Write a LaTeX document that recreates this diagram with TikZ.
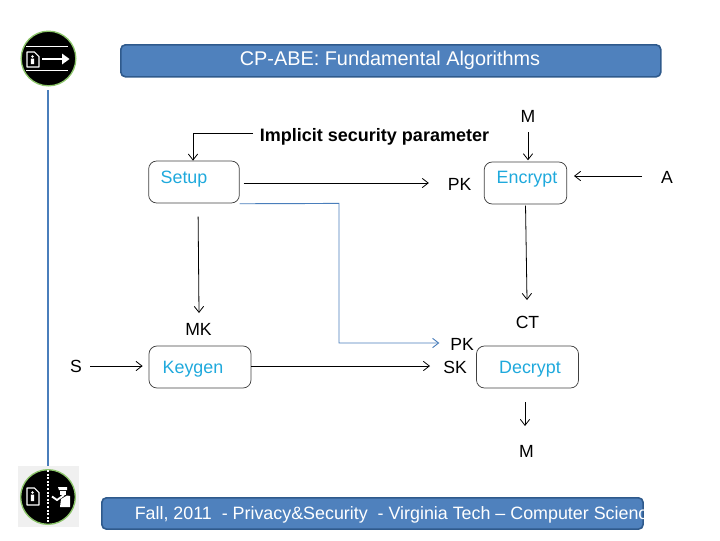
\documentclass[tikz,border=0pt]{standalone}
\usepackage{fontspec}
\setmainfont{Liberation Sans}
\usetikzlibrary{arrows.meta}
\definecolor{bannerfill}{HTML}{4F81BD}
\definecolor{bannerline}{HTML}{2F5A8C}
\definecolor{cyantext}{HTML}{1FA9DC}
\definecolor{bluearrow}{HTML}{4A7EBB}
\definecolor{ringgreen}{HTML}{8CC56A}
\tikzset{
  px/.style={x=0.75pt,y=-0.75pt},
  banner/.style={draw=bannerline,fill=bannerfill,line width=1.2pt,rounded corners=3.5pt},
  titlefont/.style={text=white,font=\fontsize{14.9pt}{17pt}\selectfont,inner sep=0pt},
  footfont/.style={text=white,font=\fontsize{13.4pt}{16pt}\selectfont,inner sep=0pt},
  algbox/.style={draw=black!75,line width=0.55pt,rounded corners=6pt,inner sep=0pt},
  algtext/.style={text=cyantext,font=\fontsize{13.4pt}{15pt}\selectfont,inner sep=0pt},
  lbl/.style={text=black,font=\fontsize{13.2pt}{15pt}\selectfont,inner sep=1pt},
  arr/.style={-{Straight Barb[length=4.5pt,width=7pt]},line width=0.6pt,black},
  bluearr/.style={-{Straight Barb[length=4.5pt,width=7pt]},line width=0.7pt,bluearrow},
  disc/.style={circle,fill=black,draw=ringgreen,line width=1pt,minimum size=41pt,inner sep=0pt},
  iconline/.style={white,line width=0.7pt},
}
\begin{document}
\begin{tikzpicture}[px]
\useasboundingbox (0,0) rectangle (720,540);
% timeline
\draw[bluearrow,line width=1.4pt] (48,90) -- (48,468);
% top icon
\node[disc] (topdisc) at (48.5,58.5) {};
\draw[iconline] (26,46) -- (68,46) (26,70) -- (68,70);
\draw[white,line width=0.8pt,line join=round] (27,52) -- (34.5,52) -- (39,56.5) -- (39,67) -- (27,67) -- cycle;
\fill[white] (32.5,56.5) circle (1.4) (30.8,58.5) rectangle (34.2,64);
\draw[white,line width=2.2pt] (42,59) -- (63,59);
\fill[white] (62,53.5) -- (69.5,59) -- (62,64.5) -- cycle;
% bottom icon
\fill[black!6] (18,466) rectangle (79,527);
\node[disc] (botdisc) at (48,497) {};
\draw[white,line width=1pt,dash pattern=on 1.5pt off 1.2pt] (48,470) -- (48,524);
\draw[white,line width=0.8pt,line join=round] (27,488) -- (34.5,488) -- (39,492.5) -- (39,505) -- (27,505) -- cycle;
\fill[white] (32.5,492.5) circle (1.4) (30.8,494.5) rectangle (34.2,501);
\fill[white] (58,487) -- (67,487) -- (67,490) -- (59,490) -- cycle;
\fill[white] (60,491) rectangle (66,495);
\fill[white] (61,499) -- (67,495.5) -- (70,496) -- (70,507) -- (60,507) -- cycle;
\draw[white,line width=1.4pt] (52,496.5) -- (57,500) -- (64,495);
% banners
\node[banner,minimum width=405pt,minimum height=24pt,anchor=north west,inner sep=0pt] (title) at (120,44) {};
\node[titlefont] (titletext) at (390,60) {CP-ABE: Fundamental Algorithms};
\node[banner,minimum width=406pt,minimum height=23.5pt,anchor=north west,inner sep=0pt] (foot) at (101,497) {};
\begin{scope}
\clip (101,497) rectangle (645,528);
\node[footfont,anchor=west] (foottext) at (134.5,514.5) {Fall, 2011\ \ - Privacy\&Security\ \ - Virginia Tech – Computer Science};
\end{scope}
% algorithm boxes
\node[algbox,minimum width=68pt,minimum height=31.5pt] (setup) at (194,182) {};
\node[algtext] (setuptext) at (184,179) {Setup};
\node[algbox,minimum width=62pt,minimum height=31.5pt] (encrypt) at (525.5,183) {};
\node[algtext] (encrypttext) at (527,179) {Encrypt};
\node[algbox,minimum width=76.5pt,minimum height=31.5pt] (keygen) at (200,367) {};
\node[algtext] (keygentext) at (193,369.5) {Keygen};
\node[algbox,minimum width=76.5pt,minimum height=31.5pt] (decrypt) at (527.5,367) {};
\node[algtext] (decrypttext) at (530,369.5) {Decrypt};
% labels
\node[text=black,font=\bfseries\fontsize{13.5pt}{15pt}\selectfont,inner sep=0pt] (implicit) at (374.5,137) {Implicit security parameter};
\node[lbl] (m1) at (528,116.5) {M};
\node[lbl] (a) at (667,177.5) {A};
\node[lbl] (pk1) at (459.5,184.5) {PK};
\node[lbl] (ct) at (527.5,322.5) {CT};
\node[lbl] (mk) at (198.5,329.5) {MK};
\node[lbl] (pk2) at (462,344.5) {PK};
\node[lbl] (sk) at (455,367.5) {SK};
\node[lbl] (s) at (76,366.5) {S};
\node[lbl] (m2) at (526.5,451.5) {M};
% connectors
\coordinate (implicitend) at (253,133);
\coordinate (bend) at (193,133);
\coordinate (setupy) at (0,183);
\draw[arr] (implicitend) -- (bend) -- (setup.north -| bend);
\draw[arr,shorten >=1pt] (528,132) -- (encrypt.north -| m1);
\draw[arr] (642,176) -- (574,176);
\draw[arr,shorten <=1pt] (encrypt.south) -- (527,300);
\draw[arr,shorten <=3pt,shorten >=13pt] (setup.east |- setupy) -- (pk1.west |- setupy);
\draw[arr,shorten <=10pt] (setup.south -| 198,0) -- (199,313);
\draw[bluearr,shorten >=7pt] (setup.south east) ++(0,0.4) -- (339,203.4) -- (339,343) -- (pk2.west |- 0,343);
\draw[arr,shorten <=5pt,shorten >=4.5pt] (s.east |- 0,366) -- (keygen.west |- 0,366);
\draw[arr] (keygen.east |- 0,366) -- (430,366);
\draw[arr] (525,402) -- (525,426);
\end{tikzpicture}
\end{document}
